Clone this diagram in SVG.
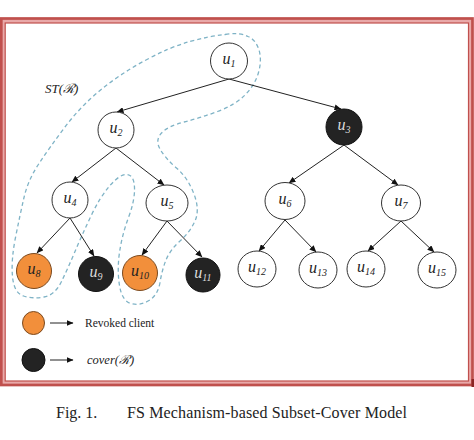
<svg xmlns="http://www.w3.org/2000/svg" width="474" height="440" viewBox="0 0 474 440">
<style>
.edge{stroke:#222;stroke-width:1;fill:none}
.nw{fill:#fff;stroke:#333;stroke-width:1}
.nb{fill:#232323;stroke:#111;stroke-width:1}
.no{fill:#f28f3b;stroke:#7a4a20;stroke-width:1}
.lb{font-family:"Liberation Serif",serif;font-style:italic;font-size:16px;fill:#222;text-anchor:middle}
.lw{fill:#ddd}
.sub{font-size:10px}
.cap{font-family:"Liberation Serif",serif;fill:#222}
</style>
<defs>
<marker id="ah" markerUnits="userSpaceOnUse" markerWidth="7" markerHeight="6" refX="6.5" refY="3" orient="auto">
<path d="M0,0 L7,3 L0,6 z" fill="#111"/>
</marker>
</defs>
<rect width="474" height="440" fill="#fff"/>
<g id="frame">
<rect x="1.3" y="18.5" width="471.2" height="366.5" fill="#e9a9a9" stroke="#c0504d" stroke-width="2.7"/>
<rect x="5.2" y="23" width="463.3" height="358" fill="#fff" stroke="#c0504d" stroke-width="1.2"/>
<rect x="471.5" y="379" width="2.5" height="8" fill="#8b2525"/>
</g>
<g id="subtree-outline">
<path d="M 225,34.5 Q 240,32 248,36.5 Q 256,40 259,50 Q 262,60 258.5,72.5 Q 255,85 245,95 Q 235,105 217.5,111.5 Q 200,118 184,122 Q 168,126 161.5,133 Q 155,140 160,149 Q 165,158 176.5,168 Q 188,178 194,194 Q 200,210 195,221 Q 190,232 180,241 Q 170,250 166,260 Q 162,270 160,282.5 Q 158,295 149,300.5 Q 140,306 131,303.5 Q 122,301 119.5,285.5 Q 117,270 119.5,252.5 Q 122,235 128.5,217.5 Q 135,200 134.5,187.5 Q 134,175 127,174.5 Q 120,174 110,185.5 Q 100,197 91,216 Q 82,235 75,251.5 Q 68,268 61.5,281.5 Q 55,295 44,297 Q 33,299 23.5,296 Q 14,293 12.5,276.5 Q 11,260 15.5,237.5 Q 20,215 24,197.5 Q 28,180 39,163.5 Q 50,147 65,127 Q 80,107 100,90.5 Q 120,74 145,60.5 Q 170,47 190,41.5 Q 210,36 225,34.5 Z" fill="none" stroke="#7fb3c6" stroke-width="1.3" stroke-dasharray="4,3"/>
<text x="45" y="93" class="cap" font-style="italic" font-size="13">ST(ℛ)</text>
</g>
<g id="connectors">
<line class="edge" x1="229" y1="79" x2="117" y2="112" marker-end="url(#ah)"/>
<line class="edge" x1="229" y1="79" x2="341" y2="109" marker-end="url(#ah)"/>
<line class="edge" x1="116" y1="148" x2="72" y2="182" marker-end="url(#ah)"/>
<line class="edge" x1="116" y1="148" x2="164" y2="185" marker-end="url(#ah)"/>
<line class="edge" x1="344" y1="145" x2="289" y2="183" marker-end="url(#ah)"/>
<line class="edge" x1="344" y1="145" x2="398" y2="185" marker-end="url(#ah)"/>
<line class="edge" x1="70" y1="218" x2="37" y2="253" marker-end="url(#ah)"/>
<line class="edge" x1="70" y1="218" x2="94" y2="256" marker-end="url(#ah)"/>
<line class="edge" x1="167" y1="221" x2="142" y2="255" marker-end="url(#ah)"/>
<line class="edge" x1="167" y1="221" x2="202" y2="257" marker-end="url(#ah)"/>
<line class="edge" x1="285" y1="220" x2="259" y2="251" marker-end="url(#ah)"/>
<line class="edge" x1="285" y1="220" x2="316" y2="252" marker-end="url(#ah)"/>
<line class="edge" x1="401" y1="221" x2="368" y2="251" marker-end="url(#ah)"/>
<line class="edge" x1="401" y1="221" x2="434" y2="252" marker-end="url(#ah)"/>
<line class="edge" x1="50" y1="323" x2="73" y2="323" marker-end="url(#ah)"/>
<line class="edge" x1="50" y1="360" x2="73" y2="360" marker-end="url(#ah)"/>
</g>
<g id="u1"><ellipse class="nw" cx="229" cy="61" rx="18.5" ry="18"/><text class="lb" x="229" y="64">u<tspan class="sub" dy="3">1</tspan></text></g>
<g id="u2"><ellipse class="nw" cx="116" cy="130" rx="18" ry="18"/><text class="lb" x="116" y="133">u<tspan class="sub" dy="3">2</tspan></text></g>
<g id="u3"><circle class="nb" cx="344" cy="127" r="18"/><text class="lb lw" x="344" y="130">u<tspan class="sub" dy="3">3</tspan></text></g>
<g id="u4"><ellipse class="nw" cx="70" cy="200" rx="18" ry="18"/><text class="lb" x="70" y="203">u<tspan class="sub" dy="3">4</tspan></text></g>
<g id="u5"><ellipse class="nw" cx="167" cy="203" rx="21" ry="18"/><text class="lb" x="167" y="206">u<tspan class="sub" dy="3">5</tspan></text></g>
<g id="u6"><ellipse class="nw" cx="285" cy="201" rx="20" ry="18.5"/><text class="lb" x="285" y="204">u<tspan class="sub" dy="3">6</tspan></text></g>
<g id="u7"><ellipse class="nw" cx="401" cy="203" rx="19.5" ry="18"/><text class="lb" x="401" y="206">u<tspan class="sub" dy="3">7</tspan></text></g>
<g id="u8"><circle class="no" cx="34" cy="271" r="17.5"/><text class="lb" x="34" y="274">u<tspan class="sub" dy="3">8</tspan></text></g>
<g id="u9"><circle class="nb" cx="96" cy="274" r="17.5"/><text class="lb lw" x="96" y="277">u<tspan class="sub" dy="3">9</tspan></text></g>
<g id="u10"><circle class="no" cx="140" cy="273" r="17.5"/><text class="lb" x="140" y="276">u<tspan class="sub" dy="3">10</tspan></text></g>
<g id="u11"><circle class="nb" cx="203" cy="275" r="17"/><text class="lb lw" x="203" y="278">u<tspan class="sub" dy="3">11</tspan></text></g>
<g id="u12"><ellipse class="nw" cx="257" cy="269" rx="19" ry="18"/><text class="lb" x="257" y="272">u<tspan class="sub" dy="3">12</tspan></text></g>
<g id="u13"><ellipse class="nw" cx="318" cy="270" rx="19" ry="18"/><text class="lb" x="318" y="273">u<tspan class="sub" dy="3">13</tspan></text></g>
<g id="u14"><ellipse class="nw" cx="366" cy="269" rx="19" ry="18"/><text class="lb" x="366" y="272">u<tspan class="sub" dy="3">14</tspan></text></g>
<g id="u15"><ellipse class="nw" cx="437" cy="270" rx="19" ry="18"/><text class="lb" x="437" y="273">u<tspan class="sub" dy="3">15</tspan></text></g>
<g id="legend">
<ellipse class="no" cx="33.5" cy="323" rx="11" ry="11.5"/>
<text class="cap" x="85" y="327" font-size="11.5">Revoked client</text>
<circle class="nb" cx="33.5" cy="360" r="11.5"/>
<text class="cap" x="87" y="364" font-size="12.5" font-style="italic">cover(ℛ)</text>
</g>
<g id="caption">
<text class="cap" x="56" y="418" font-size="16">Fig. 1.</text>
<text class="cap" x="127" y="418" font-size="16" textLength="280" lengthAdjust="spacing">FS Mechanism-based Subset-Cover Model</text>
</g>
</svg>
